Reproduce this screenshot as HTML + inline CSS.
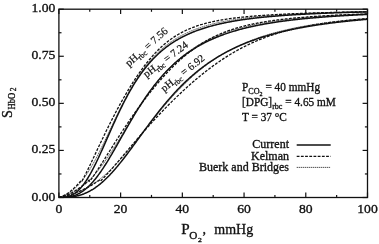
<!DOCTYPE html>
<html><head><meta charset="utf-8"><title>HbO2 dissociation curves</title>
<style>
html,body{margin:0;padding:0;background:#fff;}
svg{display:block;}
text{font-family:"Liberation Serif","DejaVu Serif",serif;fill:#111;stroke:#111;stroke-width:0.33;}
.tk text{font-size:12.9px;}
.an text{font-size:12.3px;}
.lg text{font-size:12px;}
.rl text{stroke-width:0.2;}
.axis line{stroke:#111;stroke-width:1.2;}
.solid{fill:none;stroke:#111;stroke-width:1.5;}
.dash{fill:none;stroke:#111;stroke-width:1.3;stroke-dasharray:2.8 1.4;}
.thin{fill:none;stroke:#333;stroke-width:0.85;stroke-dasharray:1.4 0.6;}
</style></head><body>
<svg width="379" height="244" viewBox="0 0 379 244">
<rect width="379" height="244" fill="#fff"/>
<clipPath id="c"><rect x="58.9" y="9.2" width="308.6" height="188.3"/></clipPath>
<g clip-path="url(#c)">
<path d="M58.90,197.50 L59.67,197.26 L60.44,197.01 L61.21,196.75 L61.99,196.46 L62.76,196.16 L63.53,195.84 L64.30,195.50 L65.07,195.13 L65.84,194.75 L66.61,194.34 L67.39,193.92 L68.16,193.46 L68.93,192.99 L69.70,192.49 L70.47,191.96 L71.24,191.41 L72.02,190.83 L72.79,190.22 L73.56,189.59 L74.33,188.92 L75.10,188.23 L75.87,187.51 L76.64,186.77 L77.42,185.99 L78.19,185.18 L78.96,184.34 L79.73,183.47 L80.50,182.58 L81.27,181.65 L82.05,180.69 L82.82,179.70 L83.59,178.68 L84.36,177.63 L85.13,176.55 L85.90,175.44 L86.67,174.31 L87.45,173.14 L88.22,171.95 L88.99,170.72 L89.76,169.47 L90.53,168.20 L91.30,166.89 L92.07,165.57 L92.85,164.21 L93.62,162.84 L94.39,161.44 L95.16,160.02 L95.93,158.57 L96.70,157.11 L97.47,155.63 L98.25,154.13 L99.02,152.61 L99.79,151.08 L100.56,149.53 L101.33,147.97 L102.10,146.40 L102.88,144.81 L103.65,143.22 L104.42,141.61 L105.19,140.00 L105.96,138.38 L106.73,136.76 L107.50,135.13 L108.28,133.49 L109.05,131.86 L109.82,130.22 L110.59,128.59 L111.36,126.95 L112.13,125.32 L112.91,123.69 L113.68,122.07 L114.45,120.45 L115.22,118.83 L115.99,117.22 L116.76,115.62 L117.53,114.03 L118.31,112.45 L119.08,110.88 L119.85,109.32 L120.62,107.77 L121.39,106.24 L122.16,104.71 L122.93,103.20 L123.71,101.71 L124.48,100.23 L125.25,98.76 L126.02,97.31 L126.79,95.88 L127.56,94.46 L128.34,93.06 L129.11,91.67 L129.88,90.30 L130.65,88.95 L131.42,87.62 L132.19,86.31 L132.96,85.01 L133.74,83.73 L134.51,82.47 L135.28,81.23 L136.05,80.00 L136.82,78.79 L137.59,77.61 L138.36,76.44 L139.14,75.29 L139.91,74.15 L140.68,73.04 L141.45,71.94 L142.22,70.87 L142.99,69.81 L143.76,68.76 L144.54,67.74 L145.31,66.73 L146.08,65.74 L146.85,64.77 L147.62,63.81 L148.39,62.88 L149.17,61.95 L149.94,61.05 L150.71,60.16 L151.48,59.29 L152.25,58.43 L153.02,57.59 L153.79,56.76 L154.57,55.95 L155.34,55.16 L156.11,54.38 L156.88,53.61 L157.65,52.86 L158.42,52.12 L159.19,51.40 L159.97,50.69 L160.74,49.99 L161.51,49.31 L162.28,48.64 L163.05,47.98 L163.82,47.34 L164.60,46.71 L165.37,46.09 L166.14,45.48 L166.91,44.88 L167.68,44.30 L168.45,43.73 L169.22,43.16 L170.00,42.61 L170.77,42.07 L171.54,41.54 L172.31,41.02 L173.08,40.51 L173.85,40.01 L174.62,39.52 L175.40,39.04 L176.17,38.56 L176.94,38.10 L177.71,37.65 L178.48,37.20 L179.25,36.76 L180.03,36.34 L180.80,35.92 L181.57,35.50 L182.34,35.10 L183.11,34.70 L183.88,34.31 L184.65,33.93 L185.43,33.56 L186.20,33.19 L186.97,32.83 L187.74,32.47 L188.51,32.13 L189.28,31.79 L190.06,31.45 L190.83,31.12 L191.60,30.80 L192.37,30.49 L193.14,30.18 L193.91,29.87 L194.68,29.57 L195.46,29.28 L196.23,28.99 L197.00,28.71 L197.77,28.43 L198.54,28.16 L199.31,27.89 L200.08,27.63 L200.86,27.37 L201.63,27.12 L202.40,26.87 L203.17,26.63 L203.94,26.39 L204.71,26.15 L205.49,25.92 L206.26,25.69 L207.03,25.47 L207.80,25.25 L208.57,25.04 L209.34,24.82 L210.11,24.62 L210.89,24.41 L211.66,24.21 L212.43,24.02 L213.20,23.82 L213.97,23.63 L214.74,23.44 L215.51,23.26 L216.29,23.08 L217.06,22.90 L217.83,22.73 L218.60,22.56 L219.37,22.39 L220.14,22.22 L220.92,22.06 L221.69,21.90 L222.46,21.74 L223.23,21.59 L224.00,21.43 L224.77,21.28 L225.54,21.14 L226.32,20.99 L227.09,20.85 L227.86,20.71 L228.63,20.57 L229.40,20.43 L230.17,20.30 L230.94,20.17 L231.72,20.04 L232.49,19.91 L233.26,19.79 L234.03,19.66 L234.80,19.54 L235.57,19.42 L236.34,19.30 L237.12,19.19 L237.89,19.07 L238.66,18.96 L239.43,18.85 L240.20,18.74 L240.97,18.64 L241.75,18.53 L242.52,18.43 L243.29,18.32 L244.06,18.22 L244.83,18.12 L245.60,18.03 L246.37,17.93 L247.15,17.84 L247.92,17.74 L248.69,17.65 L249.46,17.56 L250.23,17.47 L251.00,17.38 L251.78,17.30 L252.55,17.21 L253.32,17.13 L254.09,17.04 L254.86,16.96 L255.63,16.88 L256.40,16.80 L257.18,16.72 L257.95,16.65 L258.72,16.57 L259.49,16.50 L260.26,16.42 L261.03,16.35 L261.80,16.28 L262.58,16.21 L263.35,16.14 L264.12,16.07 L264.89,16.00 L265.66,15.93 L266.43,15.87 L267.20,15.80 L267.98,15.74 L268.75,15.68 L269.52,15.61 L270.29,15.55 L271.06,15.49 L271.83,15.43 L272.61,15.37 L273.38,15.31 L274.15,15.26 L274.92,15.20 L275.69,15.14 L276.46,15.09 L277.23,15.03 L278.01,14.98 L278.78,14.93 L279.55,14.87 L280.32,14.82 L281.09,14.77 L281.86,14.72 L282.63,14.67 L283.41,14.62 L284.18,14.57 L284.95,14.53 L285.72,14.48 L286.49,14.43 L287.26,14.39 L288.04,14.34 L288.81,14.29 L289.58,14.25 L290.35,14.21 L291.12,14.16 L291.89,14.12 L292.66,14.08 L293.44,14.04 L294.21,14.00 L294.98,13.95 L295.75,13.91 L296.52,13.87 L297.29,13.84 L298.06,13.80 L298.84,13.76 L299.61,13.72 L300.38,13.68 L301.15,13.65 L301.92,13.61 L302.69,13.57 L303.47,13.54 L304.24,13.50 L305.01,13.47 L305.78,13.43 L306.55,13.40 L307.32,13.37 L308.09,13.33 L308.87,13.30 L309.64,13.27 L310.41,13.24 L311.18,13.20 L311.95,13.17 L312.72,13.14 L313.50,13.11 L314.27,13.08 L315.04,13.05 L315.81,13.02 L316.58,12.99 L317.35,12.96 L318.12,12.93 L318.90,12.91 L319.67,12.88 L320.44,12.85 L321.21,12.82 L321.98,12.80 L322.75,12.77 L323.52,12.74 L324.30,12.72 L325.07,12.69 L325.84,12.66 L326.61,12.64 L327.38,12.61 L328.15,12.59 L328.93,12.56 L329.70,12.54 L330.47,12.52 L331.24,12.49 L332.01,12.47 L332.78,12.45 L333.55,12.42 L334.33,12.40 L335.10,12.38 L335.87,12.36 L336.64,12.33 L337.41,12.31 L338.18,12.29 L338.95,12.27 L339.73,12.25 L340.50,12.23 L341.27,12.21 L342.04,12.18 L342.81,12.16 L343.58,12.14 L344.36,12.12 L345.13,12.10 L345.90,12.09 L346.67,12.07 L347.44,12.05 L348.21,12.03 L348.98,12.01 L349.76,11.99 L350.53,11.97 L351.30,11.95 L352.07,11.94 L352.84,11.92 L353.61,11.90 L354.38,11.88 L355.16,11.87 L355.93,11.85 L356.70,11.83 L357.47,11.81 L358.24,11.80 L359.01,11.78 L359.79,11.76 L360.56,11.75 L361.33,11.73 L362.10,11.72 L362.87,11.70 L363.64,11.68 L364.41,11.67 L365.19,11.65 L365.96,11.64 L366.73,11.62 L367.50,11.61" class="thin"/>
<path d="M58.90,197.50 L59.67,197.25 L60.44,196.98 L61.21,196.69 L61.99,196.37 L62.76,196.03 L63.53,195.66 L64.30,195.26 L65.07,194.84 L65.84,194.40 L66.61,193.93 L67.39,193.44 L68.16,192.92 L68.93,192.38 L69.70,191.81 L70.47,191.22 L71.24,190.60 L72.02,189.96 L72.79,189.29 L73.56,188.60 L74.33,187.89 L75.10,187.15 L75.87,186.38 L76.64,185.59 L77.42,184.77 L78.19,183.93 L78.96,183.07 L79.73,182.18 L80.50,181.27 L81.27,180.33 L82.05,180.89 L82.82,179.48 L83.59,178.03 L84.36,176.56 L85.13,175.07 L85.90,173.55 L86.67,172.01 L87.45,170.45 L88.22,168.88 L88.99,167.29 L89.76,165.69 L90.53,164.08 L91.30,162.46 L92.07,160.83 L92.85,159.20 L93.62,157.56 L94.39,155.91 L95.16,154.27 L95.93,152.62 L96.70,150.98 L97.47,149.33 L98.25,147.69 L99.02,146.05 L99.79,144.42 L100.56,142.79 L101.33,141.16 L102.10,139.54 L102.88,137.93 L103.65,136.32 L104.42,134.72 L105.19,133.13 L105.96,131.54 L106.73,129.97 L107.50,128.40 L108.28,126.84 L109.05,125.29 L109.82,123.75 L110.59,122.22 L111.36,120.70 L112.13,119.19 L112.91,117.69 L113.68,116.20 L114.45,114.72 L115.22,113.25 L115.99,111.79 L116.76,110.34 L117.53,108.90 L118.31,107.48 L119.08,106.06 L119.85,104.65 L120.62,103.26 L121.39,101.87 L122.16,100.50 L122.93,99.14 L123.71,97.79 L124.48,96.45 L125.25,95.12 L126.02,93.80 L126.79,92.49 L127.56,91.20 L128.34,89.91 L129.11,88.64 L129.88,87.38 L130.65,86.13 L131.42,84.89 L132.19,83.66 L132.96,82.45 L133.74,81.25 L134.51,80.06 L135.28,78.88 L136.05,77.72 L136.82,76.56 L137.59,75.42 L138.36,74.30 L139.14,73.18 L139.91,72.08 L140.68,70.99 L141.45,69.92 L142.22,68.86 L142.99,67.81 L143.76,66.77 L144.54,65.75 L145.31,64.74 L146.08,63.75 L146.85,62.77 L147.62,61.81 L148.39,60.85 L149.17,59.92 L149.94,58.99 L150.71,58.08 L151.48,57.19 L152.25,56.31 L153.02,55.44 L153.79,54.58 L154.57,53.75 L155.34,52.92 L156.11,52.11 L156.88,51.31 L157.65,50.53 L158.42,49.76 L159.19,49.01 L159.97,48.26 L160.74,47.54 L161.51,46.82 L162.28,46.12 L163.05,45.43 L163.82,44.76 L164.60,44.10 L165.37,43.45 L166.14,42.82 L166.91,42.19 L167.68,41.58 L168.45,40.99 L169.22,40.40 L170.00,39.83 L170.77,39.27 L171.54,38.72 L172.31,38.18 L173.08,37.65 L173.85,37.14 L174.62,36.63 L175.40,36.14 L176.17,35.66 L176.94,35.19 L177.71,34.72 L178.48,34.27 L179.25,33.83 L180.03,33.40 L180.80,32.97 L181.57,32.56 L182.34,32.16 L183.11,31.76 L183.88,31.37 L184.65,30.99 L185.43,30.62 L186.20,30.26 L186.97,29.91 L187.74,29.56 L188.51,29.23 L189.28,28.90 L190.06,28.57 L190.83,28.26 L191.60,27.95 L192.37,27.65 L193.14,27.35 L193.91,27.06 L194.68,26.78 L195.46,26.50 L196.23,26.23 L197.00,25.97 L197.77,25.71 L198.54,25.46 L199.31,25.21 L200.08,24.97 L200.86,24.73 L201.63,24.50 L202.40,24.28 L203.17,24.06 L203.94,23.84 L204.71,23.63 L205.49,23.42 L206.26,23.22 L207.03,23.02 L207.80,22.82 L208.57,22.63 L209.34,22.45 L210.11,22.27 L210.89,22.09 L211.66,21.91 L212.43,21.74 L213.20,21.57 L213.97,21.41 L214.74,21.25 L215.51,21.09 L216.29,20.94 L217.06,20.78 L217.83,20.64 L218.60,20.49 L219.37,20.35 L220.14,20.21 L220.92,20.07 L221.69,19.94 L222.46,19.80 L223.23,19.68 L224.00,19.55 L224.77,19.42 L225.54,19.30 L226.32,19.18 L227.09,19.07 L227.86,18.95 L228.63,18.84 L229.40,18.73 L230.17,18.62 L230.94,18.51 L231.72,18.41 L232.49,18.30 L233.26,18.20 L234.03,18.10 L234.80,18.01 L235.57,17.91 L236.34,17.82 L237.12,17.72 L237.89,17.63 L238.66,17.54 L239.43,17.46 L240.20,17.37 L240.97,17.28 L241.75,17.20 L242.52,17.12 L243.29,17.04 L244.06,16.96 L244.83,16.88 L245.60,16.80 L246.37,16.73 L247.15,16.66 L247.92,16.58 L248.69,16.51 L249.46,16.44 L250.23,16.37 L251.00,16.30 L251.78,16.23 L252.55,16.17 L253.32,16.10 L254.09,16.04 L254.86,15.98 L255.63,15.91 L256.40,15.85 L257.18,15.79 L257.95,15.73 L258.72,15.67 L259.49,15.62 L260.26,15.56 L261.03,15.50 L261.80,15.45 L262.58,15.39 L263.35,15.34 L264.12,15.29 L264.89,15.23 L265.66,15.18 L266.43,15.13 L267.20,15.08 L267.98,15.03 L268.75,14.98 L269.52,14.94 L270.29,14.89 L271.06,14.84 L271.83,14.80 L272.61,14.75 L273.38,14.71 L274.15,14.66 L274.92,14.62 L275.69,14.58 L276.46,14.53 L277.23,14.49 L278.01,14.45 L278.78,14.41 L279.55,14.37 L280.32,14.33 L281.09,14.29 L281.86,14.25 L282.63,14.21 L283.41,14.17 L284.18,14.14 L284.95,14.10 L285.72,14.06 L286.49,14.03 L287.26,13.99 L288.04,13.96 L288.81,13.92 L289.58,13.89 L290.35,13.85 L291.12,13.82 L291.89,13.79 L292.66,13.75 L293.44,13.72 L294.21,13.69 L294.98,13.66 L295.75,13.63 L296.52,13.60 L297.29,13.57 L298.06,13.54 L298.84,13.51 L299.61,13.48 L300.38,13.45 L301.15,13.42 L301.92,13.39 L302.69,13.36 L303.47,13.33 L304.24,13.31 L305.01,13.28 L305.78,13.25 L306.55,13.23 L307.32,13.20 L308.09,13.17 L308.87,13.15 L309.64,13.12 L310.41,13.10 L311.18,13.07 L311.95,13.05 L312.72,13.02 L313.50,13.00 L314.27,12.97 L315.04,12.95 L315.81,12.93 L316.58,12.90 L317.35,12.88 L318.12,12.86 L318.90,12.83 L319.67,12.81 L320.44,12.79 L321.21,12.77 L321.98,12.75 L322.75,12.72 L323.52,12.70 L324.30,12.68 L325.07,12.66 L325.84,12.64 L326.61,12.62 L327.38,12.60 L328.15,12.58 L328.93,12.56 L329.70,12.54 L330.47,12.52 L331.24,12.50 L332.01,12.48 L332.78,12.46 L333.55,12.44 L334.33,12.43 L335.10,12.41 L335.87,12.39 L336.64,12.37 L337.41,12.35 L338.18,12.33 L338.95,12.32 L339.73,12.30 L340.50,12.28 L341.27,12.26 L342.04,12.25 L342.81,12.23 L343.58,12.21 L344.36,12.20 L345.13,12.18 L345.90,12.16 L346.67,12.15 L347.44,12.13 L348.21,12.12 L348.98,12.10 L349.76,12.08 L350.53,12.07 L351.30,12.05 L352.07,12.04 L352.84,12.02 L353.61,12.01 L354.38,11.99 L355.16,11.98 L355.93,11.96 L356.70,11.95 L357.47,11.94 L358.24,11.92 L359.01,11.91 L359.79,11.89 L360.56,11.88 L361.33,11.87 L362.10,11.85 L362.87,11.84 L363.64,11.82 L364.41,11.81 L365.19,11.80 L365.96,11.79 L366.73,11.77 L367.50,11.76" class="dash"/>
<path d="M58.90,197.50 L59.67,197.50 L60.44,197.49 L61.21,197.48 L61.99,197.45 L62.76,197.41 L63.53,197.35 L64.30,197.27 L65.07,197.17 L65.84,197.04 L66.61,196.89 L67.39,196.71 L68.16,196.51 L68.93,196.27 L69.70,196.00 L70.47,195.70 L71.24,195.36 L72.02,194.98 L72.79,194.57 L73.56,194.11 L74.33,193.62 L75.10,193.09 L75.87,192.51 L76.64,191.90 L77.42,191.24 L78.19,190.53 L78.96,189.79 L79.73,189.00 L80.50,188.16 L81.27,187.29 L82.05,186.36 L82.82,185.40 L83.59,184.39 L84.36,183.34 L85.13,182.25 L85.90,181.12 L86.67,179.94 L87.45,178.73 L88.22,177.48 L88.99,176.19 L89.76,174.86 L90.53,173.50 L91.30,172.10 L92.07,170.67 L92.85,169.21 L93.62,167.72 L94.39,166.21 L95.16,164.66 L95.93,163.09 L96.70,161.50 L97.47,159.88 L98.25,158.25 L99.02,156.59 L99.79,154.92 L100.56,153.24 L101.33,151.54 L102.10,149.83 L102.88,148.11 L103.65,146.38 L104.42,144.64 L105.19,142.90 L105.96,141.15 L106.73,139.40 L107.50,137.65 L108.28,135.90 L109.05,134.16 L109.82,132.41 L110.59,130.67 L111.36,128.94 L112.13,127.21 L112.91,125.49 L113.68,123.78 L114.45,122.08 L115.22,120.39 L115.99,118.71 L116.76,117.05 L117.53,115.39 L118.31,113.76 L119.08,112.13 L119.85,110.52 L120.62,108.93 L121.39,107.36 L122.16,105.80 L122.93,104.26 L123.71,102.74 L124.48,101.23 L125.25,99.75 L126.02,98.28 L126.79,96.84 L127.56,95.41 L128.34,94.00 L129.11,92.61 L129.88,91.24 L130.65,89.89 L131.42,88.57 L132.19,87.26 L132.96,85.97 L133.74,84.70 L134.51,83.45 L135.28,82.22 L136.05,81.01 L136.82,79.82 L137.59,78.65 L138.36,77.50 L139.14,76.37 L139.91,75.26 L140.68,74.16 L141.45,73.09 L142.22,72.03 L142.99,71.00 L143.76,69.98 L144.54,68.98 L145.31,67.99 L146.08,67.03 L146.85,66.08 L147.62,65.15 L148.39,64.23 L149.17,63.33 L149.94,62.45 L150.71,61.58 L151.48,60.73 L152.25,59.90 L153.02,59.08 L153.79,58.28 L154.57,57.49 L155.34,56.71 L156.11,55.95 L156.88,55.21 L157.65,54.47 L158.42,53.76 L159.19,53.05 L159.97,52.36 L160.74,51.68 L161.51,51.01 L162.28,50.36 L163.05,49.72 L163.82,49.09 L164.60,48.47 L165.37,47.86 L166.14,47.27 L166.91,46.68 L167.68,46.11 L168.45,45.55 L169.22,44.99 L170.00,44.45 L170.77,43.92 L171.54,43.40 L172.31,42.88 L173.08,42.38 L173.85,41.89 L174.62,41.40 L175.40,40.92 L176.17,40.46 L176.94,40.00 L177.71,39.55 L178.48,39.11 L179.25,38.67 L180.03,38.25 L180.80,37.83 L181.57,37.42 L182.34,37.01 L183.11,36.62 L183.88,36.23 L184.65,35.84 L185.43,35.47 L186.20,35.10 L186.97,34.74 L187.74,34.38 L188.51,34.03 L189.28,33.69 L190.06,33.35 L190.83,33.02 L191.60,32.69 L192.37,32.37 L193.14,32.06 L193.91,31.75 L194.68,31.45 L195.46,31.15 L196.23,30.86 L197.00,30.57 L197.77,30.28 L198.54,30.01 L199.31,29.73 L200.08,29.46 L200.86,29.20 L201.63,28.94 L202.40,28.68 L203.17,28.43 L203.94,28.18 L204.71,27.94 L205.49,27.70 L206.26,27.47 L207.03,27.24 L207.80,27.01 L208.57,26.78 L209.34,26.56 L210.11,26.35 L210.89,26.13 L211.66,25.93 L212.43,25.72 L213.20,25.52 L213.97,25.32 L214.74,25.12 L215.51,24.93 L216.29,24.74 L217.06,24.55 L217.83,24.37 L218.60,24.18 L219.37,24.01 L220.14,23.83 L220.92,23.66 L221.69,23.49 L222.46,23.32 L223.23,23.15 L224.00,22.99 L224.77,22.83 L225.54,22.67 L226.32,22.52 L227.09,22.37 L227.86,22.22 L228.63,22.07 L229.40,21.92 L230.17,21.78 L230.94,21.64 L231.72,21.50 L232.49,21.36 L233.26,21.22 L234.03,21.09 L234.80,20.96 L235.57,20.83 L236.34,20.70 L237.12,20.57 L237.89,20.45 L238.66,20.33 L239.43,20.21 L240.20,20.09 L240.97,19.97 L241.75,19.86 L242.52,19.74 L243.29,19.63 L244.06,19.52 L244.83,19.41 L245.60,19.30 L246.37,19.20 L247.15,19.09 L247.92,18.99 L248.69,18.89 L249.46,18.79 L250.23,18.69 L251.00,18.59 L251.78,18.50 L252.55,18.40 L253.32,18.31 L254.09,18.22 L254.86,18.13 L255.63,18.04 L256.40,17.95 L257.18,17.86 L257.95,17.77 L258.72,17.69 L259.49,17.60 L260.26,17.52 L261.03,17.44 L261.80,17.36 L262.58,17.28 L263.35,17.20 L264.12,17.12 L264.89,17.05 L265.66,16.97 L266.43,16.90 L267.20,16.82 L267.98,16.75 L268.75,16.68 L269.52,16.61 L270.29,16.54 L271.06,16.47 L271.83,16.40 L272.61,16.33 L273.38,16.27 L274.15,16.20 L274.92,16.14 L275.69,16.07 L276.46,16.01 L277.23,15.95 L278.01,15.89 L278.78,15.82 L279.55,15.76 L280.32,15.70 L281.09,15.65 L281.86,15.59 L282.63,15.53 L283.41,15.47 L284.18,15.42 L284.95,15.36 L285.72,15.31 L286.49,15.25 L287.26,15.20 L288.04,15.15 L288.81,15.10 L289.58,15.04 L290.35,14.99 L291.12,14.94 L291.89,14.89 L292.66,14.84 L293.44,14.80 L294.21,14.75 L294.98,14.70 L295.75,14.65 L296.52,14.61 L297.29,14.56 L298.06,14.52 L298.84,14.47 L299.61,14.43 L300.38,14.38 L301.15,14.34 L301.92,14.30 L302.69,14.26 L303.47,14.21 L304.24,14.17 L305.01,14.13 L305.78,14.09 L306.55,14.05 L307.32,14.01 L308.09,13.97 L308.87,13.93 L309.64,13.90 L310.41,13.86 L311.18,13.82 L311.95,13.78 L312.72,13.75 L313.50,13.71 L314.27,13.67 L315.04,13.64 L315.81,13.60 L316.58,13.57 L317.35,13.54 L318.12,13.50 L318.90,13.47 L319.67,13.43 L320.44,13.40 L321.21,13.37 L321.98,13.34 L322.75,13.31 L323.52,13.27 L324.30,13.24 L325.07,13.21 L325.84,13.18 L326.61,13.15 L327.38,13.12 L328.15,13.09 L328.93,13.06 L329.70,13.03 L330.47,13.00 L331.24,12.98 L332.01,12.95 L332.78,12.92 L333.55,12.89 L334.33,12.86 L335.10,12.84 L335.87,12.81 L336.64,12.78 L337.41,12.76 L338.18,12.73 L338.95,12.71 L339.73,12.68 L340.50,12.66 L341.27,12.63 L342.04,12.61 L342.81,12.58 L343.58,12.56 L344.36,12.53 L345.13,12.51 L345.90,12.49 L346.67,12.46 L347.44,12.44 L348.21,12.42 L348.98,12.39 L349.76,12.37 L350.53,12.35 L351.30,12.33 L352.07,12.31 L352.84,12.28 L353.61,12.26 L354.38,12.24 L355.16,12.22 L355.93,12.20 L356.70,12.18 L357.47,12.16 L358.24,12.14 L359.01,12.12 L359.79,12.10 L360.56,12.08 L361.33,12.06 L362.10,12.04 L362.87,12.02 L363.64,12.00 L364.41,11.98 L365.19,11.96 L365.96,11.95 L366.73,11.93 L367.50,11.91" class="solid"/>
<path d="M58.90,197.50 L59.67,197.32 L60.44,197.13 L61.21,196.93 L61.99,196.72 L62.76,196.50 L63.53,196.27 L64.30,196.03 L65.07,195.78 L65.84,195.51 L66.61,195.24 L67.39,194.95 L68.16,194.64 L68.93,194.33 L69.70,194.00 L70.47,193.65 L71.24,193.30 L72.02,192.92 L72.79,192.54 L73.56,192.13 L74.33,191.71 L75.10,191.28 L75.87,190.83 L76.64,190.37 L77.42,189.88 L78.19,189.39 L78.96,188.87 L79.73,188.34 L80.50,187.79 L81.27,187.22 L82.05,186.64 L82.82,186.03 L83.59,185.41 L84.36,184.78 L85.13,184.12 L85.90,183.45 L86.67,182.75 L87.45,182.04 L88.22,181.32 L88.99,180.57 L89.76,179.81 L90.53,179.02 L91.30,178.22 L92.07,177.41 L92.85,176.57 L93.62,175.72 L94.39,174.85 L95.16,173.96 L95.93,173.05 L96.70,172.13 L97.47,171.19 L98.25,170.24 L99.02,169.27 L99.79,168.28 L100.56,167.28 L101.33,166.26 L102.10,165.23 L102.88,164.18 L103.65,163.12 L104.42,162.04 L105.19,160.95 L105.96,159.85 L106.73,158.74 L107.50,157.61 L108.28,156.47 L109.05,155.33 L109.82,154.17 L110.59,153.00 L111.36,151.82 L112.13,150.63 L112.91,149.43 L113.68,148.23 L114.45,147.01 L115.22,145.79 L115.99,144.57 L116.76,143.33 L117.53,142.10 L118.31,140.85 L119.08,139.60 L119.85,138.35 L120.62,137.10 L121.39,135.84 L122.16,134.58 L122.93,133.32 L123.71,132.06 L124.48,130.79 L125.25,129.53 L126.02,128.27 L126.79,127.01 L127.56,125.74 L128.34,124.48 L129.11,123.23 L129.88,121.97 L130.65,120.72 L131.42,119.47 L132.19,118.23 L132.96,116.99 L133.74,115.75 L134.51,114.52 L135.28,113.30 L136.05,112.08 L136.82,110.87 L137.59,109.66 L138.36,108.46 L139.14,107.27 L139.91,106.09 L140.68,104.91 L141.45,103.74 L142.22,102.58 L142.99,101.43 L143.76,100.29 L144.54,99.15 L145.31,98.03 L146.08,96.91 L146.85,95.81 L147.62,94.71 L148.39,93.62 L149.17,92.55 L149.94,91.48 L150.71,90.43 L151.48,89.38 L152.25,88.34 L153.02,87.32 L153.79,86.30 L154.57,85.30 L155.34,84.31 L156.11,83.33 L156.88,82.36 L157.65,81.40 L158.42,80.45 L159.19,79.51 L159.97,78.58 L160.74,77.66 L161.51,76.76 L162.28,75.86 L163.05,74.98 L163.82,74.11 L164.60,73.25 L165.37,72.40 L166.14,71.56 L166.91,70.73 L167.68,69.91 L168.45,69.10 L169.22,68.30 L170.00,67.52 L170.77,66.74 L171.54,65.97 L172.31,65.22 L173.08,64.47 L173.85,63.74 L174.62,63.01 L175.40,62.30 L176.17,61.59 L176.94,60.90 L177.71,60.21 L178.48,59.53 L179.25,58.87 L180.03,58.21 L180.80,57.56 L181.57,56.92 L182.34,56.29 L183.11,55.67 L183.88,55.06 L184.65,54.46 L185.43,53.87 L186.20,53.28 L186.97,52.70 L187.74,52.14 L188.51,51.58 L189.28,51.02 L190.06,50.48 L190.83,49.94 L191.60,49.42 L192.37,48.90 L193.14,48.38 L193.91,47.88 L194.68,47.38 L195.46,46.89 L196.23,46.41 L197.00,45.93 L197.77,45.47 L198.54,45.00 L199.31,44.55 L200.08,44.10 L200.86,43.66 L201.63,43.23 L202.40,42.80 L203.17,42.38 L203.94,41.96 L204.71,41.55 L205.49,41.15 L206.26,40.75 L207.03,40.36 L207.80,39.98 L208.57,39.60 L209.34,39.22 L210.11,38.85 L210.89,38.49 L211.66,38.13 L212.43,37.78 L213.20,37.44 L213.97,37.09 L214.74,36.76 L215.51,36.43 L216.29,36.10 L217.06,35.78 L217.83,35.46 L218.60,35.15 L219.37,34.84 L220.14,34.54 L220.92,34.24 L221.69,33.94 L222.46,33.65 L223.23,33.37 L224.00,33.08 L224.77,32.81 L225.54,32.53 L226.32,32.26 L227.09,32.00 L227.86,31.74 L228.63,31.48 L229.40,31.22 L230.17,30.97 L230.94,30.73 L231.72,30.48 L232.49,30.24 L233.26,30.01 L234.03,29.77 L234.80,29.54 L235.57,29.32 L236.34,29.09 L237.12,28.87 L237.89,28.66 L238.66,28.44 L239.43,28.23 L240.20,28.02 L240.97,27.82 L241.75,27.62 L242.52,27.42 L243.29,27.22 L244.06,27.03 L244.83,26.84 L245.60,26.65 L246.37,26.46 L247.15,26.28 L247.92,26.10 L248.69,25.92 L249.46,25.74 L250.23,25.57 L251.00,25.40 L251.78,25.23 L252.55,25.07 L253.32,24.90 L254.09,24.74 L254.86,24.58 L255.63,24.42 L256.40,24.27 L257.18,24.11 L257.95,23.96 L258.72,23.81 L259.49,23.67 L260.26,23.52 L261.03,23.38 L261.80,23.24 L262.58,23.10 L263.35,22.96 L264.12,22.82 L264.89,22.69 L265.66,22.56 L266.43,22.43 L267.20,22.30 L267.98,22.17 L268.75,22.05 L269.52,21.92 L270.29,21.80 L271.06,21.68 L271.83,21.56 L272.61,21.44 L273.38,21.33 L274.15,21.21 L274.92,21.10 L275.69,20.99 L276.46,20.88 L277.23,20.77 L278.01,20.66 L278.78,20.55 L279.55,20.45 L280.32,20.34 L281.09,20.24 L281.86,20.14 L282.63,20.04 L283.41,19.94 L284.18,19.84 L284.95,19.75 L285.72,19.65 L286.49,19.56 L287.26,19.47 L288.04,19.38 L288.81,19.28 L289.58,19.20 L290.35,19.11 L291.12,19.02 L291.89,18.93 L292.66,18.85 L293.44,18.76 L294.21,18.68 L294.98,18.60 L295.75,18.52 L296.52,18.44 L297.29,18.36 L298.06,18.28 L298.84,18.20 L299.61,18.13 L300.38,18.05 L301.15,17.98 L301.92,17.90 L302.69,17.83 L303.47,17.76 L304.24,17.69 L305.01,17.62 L305.78,17.55 L306.55,17.48 L307.32,17.41 L308.09,17.34 L308.87,17.28 L309.64,17.21 L310.41,17.14 L311.18,17.08 L311.95,17.02 L312.72,16.95 L313.50,16.89 L314.27,16.83 L315.04,16.77 L315.81,16.71 L316.58,16.65 L317.35,16.59 L318.12,16.53 L318.90,16.48 L319.67,16.42 L320.44,16.36 L321.21,16.31 L321.98,16.25 L322.75,16.20 L323.52,16.14 L324.30,16.09 L325.07,16.04 L325.84,15.99 L326.61,15.93 L327.38,15.88 L328.15,15.83 L328.93,15.78 L329.70,15.73 L330.47,15.68 L331.24,15.64 L332.01,15.59 L332.78,15.54 L333.55,15.49 L334.33,15.45 L335.10,15.40 L335.87,15.36 L336.64,15.31 L337.41,15.27 L338.18,15.22 L338.95,15.18 L339.73,15.14 L340.50,15.09 L341.27,15.05 L342.04,15.01 L342.81,14.97 L343.58,14.93 L344.36,14.89 L345.13,14.85 L345.90,14.81 L346.67,14.77 L347.44,14.73 L348.21,14.69 L348.98,14.65 L349.76,14.61 L350.53,14.58 L351.30,14.54 L352.07,14.50 L352.84,14.47 L353.61,14.43 L354.38,14.39 L355.16,14.36 L355.93,14.32 L356.70,14.29 L357.47,14.25 L358.24,14.22 L359.01,14.19 L359.79,14.15 L360.56,14.12 L361.33,14.09 L362.10,14.06 L362.87,14.02 L363.64,13.99 L364.41,13.96 L365.19,13.93 L365.96,13.90 L366.73,13.87 L367.50,13.84" class="thin"/>
<path d="M58.90,197.50 L59.67,197.32 L60.44,197.13 L61.21,196.92 L61.99,196.70 L62.76,196.46 L63.53,196.21 L64.30,195.95 L65.07,195.67 L65.84,195.38 L66.61,195.08 L67.39,194.76 L68.16,194.43 L68.93,194.08 L69.70,193.73 L70.47,193.35 L71.24,192.97 L72.02,192.57 L72.79,192.15 L73.56,191.72 L74.33,191.28 L75.10,190.83 L75.87,190.36 L76.64,189.88 L77.42,189.38 L78.19,188.87 L78.96,188.35 L79.73,187.81 L80.50,187.26 L81.27,186.69 L82.05,186.11 L82.82,185.52 L83.59,184.91 L84.36,184.29 L85.13,183.66 L85.90,183.01 L86.67,182.35 L87.45,181.68 L88.22,180.99 L88.99,180.28 L89.76,181.19 L90.53,180.14 L91.30,179.08 L92.07,178.00 L92.85,176.90 L93.62,175.80 L94.39,174.68 L95.16,173.54 L95.93,172.40 L96.70,171.24 L97.47,170.08 L98.25,168.91 L99.02,167.73 L99.79,166.54 L100.56,165.34 L101.33,164.14 L102.10,162.94 L102.88,161.73 L103.65,160.51 L104.42,159.29 L105.19,158.07 L105.96,156.85 L106.73,155.63 L107.50,154.40 L108.28,153.18 L109.05,151.95 L109.82,150.73 L110.59,149.50 L111.36,148.28 L112.13,147.06 L112.91,145.84 L113.68,144.62 L114.45,143.40 L115.22,142.19 L115.99,140.98 L116.76,139.77 L117.53,138.57 L118.31,137.37 L119.08,136.18 L119.85,134.98 L120.62,133.80 L121.39,132.61 L122.16,131.43 L122.93,130.26 L123.71,129.09 L124.48,127.93 L125.25,126.77 L126.02,125.61 L126.79,124.46 L127.56,123.32 L128.34,122.18 L129.11,121.05 L129.88,119.92 L130.65,118.80 L131.42,117.68 L132.19,116.57 L132.96,115.47 L133.74,114.37 L134.51,113.27 L135.28,112.19 L136.05,111.10 L136.82,110.03 L137.59,108.96 L138.36,107.89 L139.14,106.83 L139.91,105.78 L140.68,104.74 L141.45,103.70 L142.22,102.66 L142.99,101.63 L143.76,100.61 L144.54,99.59 L145.31,98.58 L146.08,97.58 L146.85,96.58 L147.62,95.59 L148.39,94.60 L149.17,93.62 L149.94,92.65 L150.71,91.68 L151.48,90.72 L152.25,89.77 L153.02,88.82 L153.79,87.88 L154.57,86.94 L155.34,86.01 L156.11,85.09 L156.88,84.18 L157.65,83.27 L158.42,82.36 L159.19,81.47 L159.97,80.58 L160.74,79.70 L161.51,78.82 L162.28,77.95 L163.05,77.09 L163.82,76.24 L164.60,75.39 L165.37,74.55 L166.14,73.72 L166.91,72.89 L167.68,72.07 L168.45,71.26 L169.22,70.46 L170.00,69.66 L170.77,68.87 L171.54,68.09 L172.31,67.31 L173.08,66.55 L173.85,65.79 L174.62,65.04 L175.40,64.29 L176.17,63.55 L176.94,62.83 L177.71,62.10 L178.48,61.39 L179.25,60.69 L180.03,59.99 L180.80,59.30 L181.57,58.61 L182.34,57.94 L183.11,57.27 L183.88,56.62 L184.65,55.96 L185.43,55.32 L186.20,54.69 L186.97,54.06 L187.74,53.44 L188.51,52.83 L189.28,52.22 L190.06,51.63 L190.83,51.04 L191.60,50.46 L192.37,49.88 L193.14,49.32 L193.91,48.76 L194.68,48.21 L195.46,47.67 L196.23,47.13 L197.00,46.61 L197.77,46.09 L198.54,45.57 L199.31,45.07 L200.08,44.57 L200.86,44.08 L201.63,43.60 L202.40,43.12 L203.17,42.65 L203.94,42.19 L204.71,41.73 L205.49,41.28 L206.26,40.84 L207.03,40.41 L207.80,39.98 L208.57,39.56 L209.34,39.14 L210.11,38.74 L210.89,38.33 L211.66,37.94 L212.43,37.55 L213.20,37.17 L213.97,36.79 L214.74,36.42 L215.51,36.05 L216.29,35.69 L217.06,35.34 L217.83,34.99 L218.60,34.65 L219.37,34.31 L220.14,33.98 L220.92,33.66 L221.69,33.34 L222.46,33.02 L223.23,32.71 L224.00,32.41 L224.77,32.11 L225.54,31.81 L226.32,31.52 L227.09,31.24 L227.86,30.96 L228.63,30.68 L229.40,30.41 L230.17,30.15 L230.94,29.88 L231.72,29.63 L232.49,29.37 L233.26,29.12 L234.03,28.88 L234.80,28.64 L235.57,28.40 L236.34,28.17 L237.12,27.94 L237.89,27.71 L238.66,27.49 L239.43,27.27 L240.20,27.06 L240.97,26.85 L241.75,26.64 L242.52,26.44 L243.29,26.24 L244.06,26.04 L244.83,25.85 L245.60,25.65 L246.37,25.47 L247.15,25.28 L247.92,25.10 L248.69,24.92 L249.46,24.75 L250.23,24.57 L251.00,24.40 L251.78,24.24 L252.55,24.07 L253.32,23.91 L254.09,23.75 L254.86,23.59 L255.63,23.44 L256.40,23.29 L257.18,23.14 L257.95,22.99 L258.72,22.85 L259.49,22.70 L260.26,22.56 L261.03,22.43 L261.80,22.29 L262.58,22.16 L263.35,22.02 L264.12,21.89 L264.89,21.77 L265.66,21.64 L266.43,21.52 L267.20,21.40 L267.98,21.28 L268.75,21.16 L269.52,21.04 L270.29,20.93 L271.06,20.81 L271.83,20.70 L272.61,20.59 L273.38,20.48 L274.15,20.38 L274.92,20.27 L275.69,20.17 L276.46,20.07 L277.23,19.97 L278.01,19.87 L278.78,19.77 L279.55,19.68 L280.32,19.58 L281.09,19.49 L281.86,19.40 L282.63,19.31 L283.41,19.22 L284.18,19.13 L284.95,19.04 L285.72,18.96 L286.49,18.87 L287.26,18.79 L288.04,18.71 L288.81,18.63 L289.58,18.55 L290.35,18.47 L291.12,18.39 L291.89,18.31 L292.66,18.24 L293.44,18.16 L294.21,18.09 L294.98,18.02 L295.75,17.94 L296.52,17.87 L297.29,17.80 L298.06,17.74 L298.84,17.67 L299.61,17.60 L300.38,17.53 L301.15,17.47 L301.92,17.40 L302.69,17.34 L303.47,17.28 L304.24,17.22 L305.01,17.15 L305.78,17.09 L306.55,17.03 L307.32,16.97 L308.09,16.92 L308.87,16.86 L309.64,16.80 L310.41,16.75 L311.18,16.69 L311.95,16.64 L312.72,16.58 L313.50,16.53 L314.27,16.47 L315.04,16.42 L315.81,16.37 L316.58,16.32 L317.35,16.27 L318.12,16.22 L318.90,16.17 L319.67,16.12 L320.44,16.07 L321.21,16.03 L321.98,15.98 L322.75,15.93 L323.52,15.89 L324.30,15.84 L325.07,15.80 L325.84,15.75 L326.61,15.71 L327.38,15.66 L328.15,15.62 L328.93,15.58 L329.70,15.54 L330.47,15.49 L331.24,15.45 L332.01,15.41 L332.78,15.37 L333.55,15.33 L334.33,15.29 L335.10,15.25 L335.87,15.22 L336.64,15.18 L337.41,15.14 L338.18,15.10 L338.95,15.07 L339.73,15.03 L340.50,14.99 L341.27,14.96 L342.04,14.92 L342.81,14.89 L343.58,14.85 L344.36,14.82 L345.13,14.78 L345.90,14.75 L346.67,14.72 L347.44,14.68 L348.21,14.65 L348.98,14.62 L349.76,14.59 L350.53,14.55 L351.30,14.52 L352.07,14.49 L352.84,14.46 L353.61,14.43 L354.38,14.40 L355.16,14.37 L355.93,14.34 L356.70,14.31 L357.47,14.28 L358.24,14.25 L359.01,14.22 L359.79,14.20 L360.56,14.17 L361.33,14.14 L362.10,14.11 L362.87,14.08 L363.64,14.06 L364.41,14.03 L365.19,14.00 L365.96,13.98 L366.73,13.95 L367.50,13.93" class="dash"/>
<path d="M58.90,197.50 L59.67,197.50 L60.44,197.50 L61.21,197.49 L61.99,197.47 L62.76,197.45 L63.53,197.42 L64.30,197.38 L65.07,197.33 L65.84,197.27 L66.61,197.19 L67.39,197.10 L68.16,196.99 L68.93,196.87 L69.70,196.73 L70.47,196.57 L71.24,196.40 L72.02,196.20 L72.79,195.99 L73.56,195.75 L74.33,195.50 L75.10,195.22 L75.87,194.92 L76.64,194.59 L77.42,194.25 L78.19,193.87 L78.96,193.48 L79.73,193.06 L80.50,192.61 L81.27,192.14 L82.05,191.64 L82.82,191.12 L83.59,190.57 L84.36,189.99 L85.13,189.39 L85.90,188.76 L86.67,188.10 L87.45,187.42 L88.22,186.71 L88.99,185.97 L89.76,185.21 L90.53,184.42 L91.30,183.61 L92.07,182.77 L92.85,181.90 L93.62,181.01 L94.39,180.10 L95.16,179.16 L95.93,178.19 L96.70,177.21 L97.47,176.20 L98.25,175.17 L99.02,174.11 L99.79,173.04 L100.56,171.95 L101.33,170.83 L102.10,169.70 L102.88,168.55 L103.65,167.38 L104.42,166.19 L105.19,164.99 L105.96,163.77 L106.73,162.54 L107.50,161.29 L108.28,160.03 L109.05,158.76 L109.82,157.48 L110.59,156.18 L111.36,154.88 L112.13,153.56 L112.91,152.24 L113.68,150.91 L114.45,149.58 L115.22,148.23 L115.99,146.88 L116.76,145.53 L117.53,144.18 L118.31,142.82 L119.08,141.45 L119.85,140.09 L120.62,138.73 L121.39,137.36 L122.16,136.00 L122.93,134.64 L123.71,133.27 L124.48,131.92 L125.25,130.56 L126.02,129.21 L126.79,127.86 L127.56,126.51 L128.34,125.17 L129.11,123.84 L129.88,122.51 L130.65,121.19 L131.42,119.88 L132.19,118.57 L132.96,117.27 L133.74,115.98 L134.51,114.70 L135.28,113.43 L136.05,112.16 L136.82,110.91 L137.59,109.66 L138.36,108.43 L139.14,107.20 L139.91,105.98 L140.68,104.78 L141.45,103.59 L142.22,102.41 L142.99,101.23 L143.76,100.07 L144.54,98.93 L145.31,97.79 L146.08,96.66 L146.85,95.55 L147.62,94.45 L148.39,93.36 L149.17,92.28 L149.94,91.22 L150.71,90.16 L151.48,89.12 L152.25,88.09 L153.02,87.08 L153.79,86.07 L154.57,85.08 L155.34,84.10 L156.11,83.13 L156.88,82.18 L157.65,81.23 L158.42,80.30 L159.19,79.38 L159.97,78.47 L160.74,77.57 L161.51,76.69 L162.28,75.82 L163.05,74.95 L163.82,74.10 L164.60,73.27 L165.37,72.44 L166.14,71.62 L166.91,70.82 L167.68,70.02 L168.45,69.24 L169.22,68.47 L170.00,67.71 L170.77,66.96 L171.54,66.21 L172.31,65.48 L173.08,64.77 L173.85,64.06 L174.62,63.36 L175.40,62.67 L176.17,61.99 L176.94,61.32 L177.71,60.66 L178.48,60.01 L179.25,59.36 L180.03,58.73 L180.80,58.11 L181.57,57.49 L182.34,56.89 L183.11,56.29 L183.88,55.70 L184.65,55.13 L185.43,54.55 L186.20,53.99 L186.97,53.44 L187.74,52.89 L188.51,52.35 L189.28,51.82 L190.06,51.30 L190.83,50.78 L191.60,50.28 L192.37,49.77 L193.14,49.28 L193.91,48.80 L194.68,48.32 L195.46,47.84 L196.23,47.38 L197.00,46.92 L197.77,46.47 L198.54,46.02 L199.31,45.59 L200.08,45.15 L200.86,44.73 L201.63,44.31 L202.40,43.89 L203.17,43.49 L203.94,43.08 L204.71,42.69 L205.49,42.30 L206.26,41.91 L207.03,41.53 L207.80,41.16 L208.57,40.79 L209.34,40.43 L210.11,40.07 L210.89,39.72 L211.66,39.37 L212.43,39.03 L213.20,38.69 L213.97,38.35 L214.74,38.03 L215.51,37.70 L216.29,37.38 L217.06,37.07 L217.83,36.76 L218.60,36.45 L219.37,36.15 L220.14,35.85 L220.92,35.56 L221.69,35.27 L222.46,34.98 L223.23,34.70 L224.00,34.42 L224.77,34.15 L225.54,33.88 L226.32,33.61 L227.09,33.35 L227.86,33.09 L228.63,32.84 L229.40,32.58 L230.17,32.34 L230.94,32.09 L231.72,31.85 L232.49,31.61 L233.26,31.38 L234.03,31.14 L234.80,30.91 L235.57,30.69 L236.34,30.47 L237.12,30.25 L237.89,30.03 L238.66,29.81 L239.43,29.60 L240.20,29.39 L240.97,29.19 L241.75,28.99 L242.52,28.78 L243.29,28.59 L244.06,28.39 L244.83,28.20 L245.60,28.01 L246.37,27.82 L247.15,27.64 L247.92,27.45 L248.69,27.27 L249.46,27.09 L250.23,26.92 L251.00,26.75 L251.78,26.57 L252.55,26.40 L253.32,26.24 L254.09,26.07 L254.86,25.91 L255.63,25.75 L256.40,25.59 L257.18,25.43 L257.95,25.28 L258.72,25.13 L259.49,24.97 L260.26,24.83 L261.03,24.68 L261.80,24.53 L262.58,24.39 L263.35,24.25 L264.12,24.11 L264.89,23.97 L265.66,23.83 L266.43,23.70 L267.20,23.56 L267.98,23.43 L268.75,23.30 L269.52,23.17 L270.29,23.04 L271.06,22.92 L271.83,22.79 L272.61,22.67 L273.38,22.55 L274.15,22.43 L274.92,22.31 L275.69,22.20 L276.46,22.08 L277.23,21.97 L278.01,21.85 L278.78,21.74 L279.55,21.63 L280.32,21.52 L281.09,21.41 L281.86,21.31 L282.63,21.20 L283.41,21.10 L284.18,21.00 L284.95,20.89 L285.72,20.79 L286.49,20.69 L287.26,20.60 L288.04,20.50 L288.81,20.40 L289.58,20.31 L290.35,20.21 L291.12,20.12 L291.89,20.03 L292.66,19.94 L293.44,19.85 L294.21,19.76 L294.98,19.67 L295.75,19.59 L296.52,19.50 L297.29,19.42 L298.06,19.33 L298.84,19.25 L299.61,19.17 L300.38,19.09 L301.15,19.00 L301.92,18.93 L302.69,18.85 L303.47,18.77 L304.24,18.69 L305.01,18.62 L305.78,18.54 L306.55,18.47 L307.32,18.39 L308.09,18.32 L308.87,18.25 L309.64,18.18 L310.41,18.11 L311.18,18.04 L311.95,17.97 L312.72,17.90 L313.50,17.83 L314.27,17.76 L315.04,17.70 L315.81,17.63 L316.58,17.57 L317.35,17.50 L318.12,17.44 L318.90,17.38 L319.67,17.31 L320.44,17.25 L321.21,17.19 L321.98,17.13 L322.75,17.07 L323.52,17.01 L324.30,16.95 L325.07,16.89 L325.84,16.84 L326.61,16.78 L327.38,16.72 L328.15,16.67 L328.93,16.61 L329.70,16.56 L330.47,16.50 L331.24,16.45 L332.01,16.40 L332.78,16.34 L333.55,16.29 L334.33,16.24 L335.10,16.19 L335.87,16.14 L336.64,16.09 L337.41,16.04 L338.18,15.99 L338.95,15.94 L339.73,15.89 L340.50,15.85 L341.27,15.80 L342.04,15.75 L342.81,15.71 L343.58,15.66 L344.36,15.61 L345.13,15.57 L345.90,15.53 L346.67,15.48 L347.44,15.44 L348.21,15.39 L348.98,15.35 L349.76,15.31 L350.53,15.27 L351.30,15.22 L352.07,15.18 L352.84,15.14 L353.61,15.10 L354.38,15.06 L355.16,15.02 L355.93,14.98 L356.70,14.94 L357.47,14.90 L358.24,14.87 L359.01,14.83 L359.79,14.79 L360.56,14.75 L361.33,14.72 L362.10,14.68 L362.87,14.64 L363.64,14.61 L364.41,14.57 L365.19,14.54 L365.96,14.50 L366.73,14.47 L367.50,14.43" class="solid"/>
<path d="M58.90,197.50 L59.67,197.36 L60.44,197.22 L61.21,197.07 L61.99,196.92 L62.76,196.75 L63.53,196.59 L64.30,196.42 L65.07,196.24 L65.84,196.05 L66.61,195.86 L67.39,195.66 L68.16,195.45 L68.93,195.23 L69.70,195.01 L70.47,194.78 L71.24,194.55 L72.02,194.30 L72.79,194.05 L73.56,193.78 L74.33,193.51 L75.10,193.24 L75.87,192.95 L76.64,192.65 L77.42,192.35 L78.19,192.03 L78.96,191.71 L79.73,191.38 L80.50,191.03 L81.27,190.68 L82.05,190.32 L82.82,189.95 L83.59,189.57 L84.36,189.18 L85.13,188.78 L85.90,188.37 L86.67,187.95 L87.45,187.52 L88.22,187.08 L88.99,186.62 L89.76,186.16 L90.53,185.69 L91.30,185.21 L92.07,184.71 L92.85,184.21 L93.62,183.69 L94.39,183.17 L95.16,182.63 L95.93,182.08 L96.70,181.52 L97.47,180.96 L98.25,180.38 L99.02,179.79 L99.79,179.19 L100.56,178.57 L101.33,177.95 L102.10,177.32 L102.88,176.68 L103.65,176.02 L104.42,175.36 L105.19,174.69 L105.96,174.00 L106.73,173.31 L107.50,172.60 L108.28,171.89 L109.05,171.16 L109.82,170.43 L110.59,169.69 L111.36,168.93 L112.13,168.17 L112.91,167.40 L113.68,166.62 L114.45,165.83 L115.22,165.03 L115.99,164.22 L116.76,163.41 L117.53,162.58 L118.31,161.75 L119.08,160.91 L119.85,160.07 L120.62,159.21 L121.39,158.35 L122.16,157.48 L122.93,156.60 L123.71,155.72 L124.48,154.83 L125.25,153.94 L126.02,153.04 L126.79,152.13 L127.56,151.22 L128.34,150.30 L129.11,149.38 L129.88,148.45 L130.65,147.52 L131.42,146.58 L132.19,145.64 L132.96,144.70 L133.74,143.75 L134.51,142.80 L135.28,141.84 L136.05,140.89 L136.82,139.93 L137.59,138.97 L138.36,138.00 L139.14,137.03 L139.91,136.07 L140.68,135.10 L141.45,134.13 L142.22,133.16 L142.99,132.18 L143.76,131.21 L144.54,130.24 L145.31,129.27 L146.08,128.29 L146.85,127.32 L147.62,126.35 L148.39,125.38 L149.17,124.41 L149.94,123.44 L150.71,122.48 L151.48,121.51 L152.25,120.55 L153.02,119.59 L153.79,118.63 L154.57,117.68 L155.34,116.72 L156.11,115.77 L156.88,114.83 L157.65,113.88 L158.42,112.94 L159.19,112.00 L159.97,111.07 L160.74,110.14 L161.51,109.22 L162.28,108.29 L163.05,107.38 L163.82,106.46 L164.60,105.56 L165.37,104.65 L166.14,103.75 L166.91,102.86 L167.68,101.97 L168.45,101.09 L169.22,100.21 L170.00,99.33 L170.77,98.47 L171.54,97.60 L172.31,96.75 L173.08,95.90 L173.85,95.05 L174.62,94.21 L175.40,93.38 L176.17,92.55 L176.94,91.73 L177.71,90.91 L178.48,90.10 L179.25,89.30 L180.03,88.50 L180.80,87.71 L181.57,86.93 L182.34,86.15 L183.11,85.38 L183.88,84.61 L184.65,83.85 L185.43,83.10 L186.20,82.35 L186.97,81.61 L187.74,80.88 L188.51,80.15 L189.28,79.43 L190.06,78.72 L190.83,78.01 L191.60,77.31 L192.37,76.61 L193.14,75.93 L193.91,75.24 L194.68,74.57 L195.46,73.90 L196.23,73.24 L197.00,72.58 L197.77,71.93 L198.54,71.29 L199.31,70.65 L200.08,70.02 L200.86,69.40 L201.63,68.78 L202.40,68.17 L203.17,67.56 L203.94,66.96 L204.71,66.37 L205.49,65.79 L206.26,65.20 L207.03,64.63 L207.80,64.06 L208.57,63.50 L209.34,62.94 L210.11,62.39 L210.89,61.85 L211.66,61.31 L212.43,60.77 L213.20,60.25 L213.97,59.73 L214.74,59.21 L215.51,58.70 L216.29,58.19 L217.06,57.69 L217.83,57.20 L218.60,56.71 L219.37,56.23 L220.14,55.75 L220.92,55.28 L221.69,54.81 L222.46,54.35 L223.23,53.89 L224.00,53.44 L224.77,53.00 L225.54,52.55 L226.32,52.12 L227.09,51.69 L227.86,51.26 L228.63,50.84 L229.40,50.42 L230.17,50.01 L230.94,49.60 L231.72,49.20 L232.49,48.80 L233.26,48.41 L234.03,48.02 L234.80,47.63 L235.57,47.25 L236.34,46.87 L237.12,46.50 L237.89,46.14 L238.66,45.77 L239.43,45.41 L240.20,45.06 L240.97,44.71 L241.75,44.36 L242.52,44.02 L243.29,43.68 L244.06,43.34 L244.83,43.01 L245.60,42.68 L246.37,42.36 L247.15,42.04 L247.92,41.72 L248.69,41.41 L249.46,41.10 L250.23,40.80 L251.00,40.49 L251.78,40.20 L252.55,39.90 L253.32,39.61 L254.09,39.32 L254.86,39.03 L255.63,38.75 L256.40,38.47 L257.18,38.20 L257.95,37.93 L258.72,37.66 L259.49,37.39 L260.26,37.13 L261.03,36.87 L261.80,36.61 L262.58,36.36 L263.35,36.11 L264.12,35.86 L264.89,35.61 L265.66,35.37 L266.43,35.13 L267.20,34.89 L267.98,34.66 L268.75,34.43 L269.52,34.20 L270.29,33.97 L271.06,33.75 L271.83,33.53 L272.61,33.31 L273.38,33.09 L274.15,32.88 L274.92,32.66 L275.69,32.45 L276.46,32.25 L277.23,32.04 L278.01,31.84 L278.78,31.64 L279.55,31.44 L280.32,31.25 L281.09,31.05 L281.86,30.86 L282.63,30.67 L283.41,30.49 L284.18,30.30 L284.95,30.12 L285.72,29.94 L286.49,29.76 L287.26,29.58 L288.04,29.41 L288.81,29.23 L289.58,29.06 L290.35,28.89 L291.12,28.72 L291.89,28.56 L292.66,28.40 L293.44,28.23 L294.21,28.07 L294.98,27.91 L295.75,27.76 L296.52,27.60 L297.29,27.45 L298.06,27.30 L298.84,27.15 L299.61,27.00 L300.38,26.85 L301.15,26.71 L301.92,26.56 L302.69,26.42 L303.47,26.28 L304.24,26.14 L305.01,26.00 L305.78,25.87 L306.55,25.73 L307.32,25.60 L308.09,25.47 L308.87,25.33 L309.64,25.21 L310.41,25.08 L311.18,24.95 L311.95,24.83 L312.72,24.70 L313.50,24.58 L314.27,24.46 L315.04,24.34 L315.81,24.22 L316.58,24.10 L317.35,23.98 L318.12,23.87 L318.90,23.76 L319.67,23.64 L320.44,23.53 L321.21,23.42 L321.98,23.31 L322.75,23.20 L323.52,23.10 L324.30,22.99 L325.07,22.88 L325.84,22.78 L326.61,22.68 L327.38,22.58 L328.15,22.47 L328.93,22.37 L329.70,22.28 L330.47,22.18 L331.24,22.08 L332.01,21.99 L332.78,21.89 L333.55,21.80 L334.33,21.70 L335.10,21.61 L335.87,21.52 L336.64,21.43 L337.41,21.34 L338.18,21.25 L338.95,21.16 L339.73,21.08 L340.50,20.99 L341.27,20.91 L342.04,20.82 L342.81,20.74 L343.58,20.66 L344.36,20.57 L345.13,20.49 L345.90,20.41 L346.67,20.33 L347.44,20.25 L348.21,20.18 L348.98,20.10 L349.76,20.02 L350.53,19.95 L351.30,19.87 L352.07,19.80 L352.84,19.72 L353.61,19.65 L354.38,19.58 L355.16,19.51 L355.93,19.44 L356.70,19.37 L357.47,19.30 L358.24,19.23 L359.01,19.16 L359.79,19.09 L360.56,19.02 L361.33,18.96 L362.10,18.89 L362.87,18.83 L363.64,18.76 L364.41,18.70 L365.19,18.63 L365.96,18.57 L366.73,18.51 L367.50,18.45" class="thin"/>
<path d="M58.90,197.50 L59.67,197.37 L60.44,197.23 L61.21,197.08 L61.99,196.92 L62.76,196.76 L63.53,196.59 L64.30,196.41 L65.07,196.22 L65.84,196.03 L66.61,195.83 L67.39,195.62 L68.16,195.40 L68.93,195.18 L69.70,194.95 L70.47,194.71 L71.24,194.46 L72.02,194.20 L72.79,193.94 L73.56,193.67 L74.33,193.39 L75.10,193.11 L75.87,192.81 L76.64,192.51 L77.42,192.21 L78.19,191.89 L78.96,191.57 L79.73,191.23 L80.50,190.90 L81.27,190.55 L82.05,190.20 L82.82,189.83 L83.59,189.46 L84.36,189.09 L85.13,188.70 L85.90,188.31 L86.67,187.91 L87.45,187.50 L88.22,187.09 L88.99,186.67 L89.76,186.24 L90.53,185.80 L91.30,185.35 L92.07,184.90 L92.85,184.44 L93.62,183.97 L94.39,183.49 L95.16,183.01 L95.93,182.52 L96.70,182.02 L97.47,181.51 L98.25,181.00 L99.02,180.48 L99.79,179.95 L100.56,180.96 L101.33,180.18 L102.10,179.39 L102.88,178.59 L103.65,177.79 L104.42,176.97 L105.19,176.15 L105.96,175.32 L106.73,174.48 L107.50,173.64 L108.28,172.79 L109.05,171.93 L109.82,171.07 L110.59,170.20 L111.36,169.33 L112.13,168.45 L112.91,167.57 L113.68,166.69 L114.45,165.80 L115.22,164.90 L115.99,164.01 L116.76,163.11 L117.53,162.21 L118.31,161.31 L119.08,160.40 L119.85,159.50 L120.62,158.59 L121.39,157.68 L122.16,156.77 L122.93,155.86 L123.71,154.95 L124.48,154.03 L125.25,153.12 L126.02,152.21 L126.79,151.30 L127.56,150.38 L128.34,149.47 L129.11,148.56 L129.88,147.65 L130.65,146.74 L131.42,145.83 L132.19,144.93 L132.96,144.02 L133.74,143.11 L134.51,142.21 L135.28,141.31 L136.05,140.41 L136.82,139.51 L137.59,138.62 L138.36,137.72 L139.14,136.83 L139.91,135.94 L140.68,135.05 L141.45,134.17 L142.22,133.29 L142.99,132.40 L143.76,131.53 L144.54,130.65 L145.31,129.78 L146.08,128.91 L146.85,128.04 L147.62,127.18 L148.39,126.32 L149.17,125.46 L149.94,124.60 L150.71,123.75 L151.48,122.90 L152.25,122.05 L153.02,121.21 L153.79,120.37 L154.57,119.53 L155.34,118.70 L156.11,117.86 L156.88,117.04 L157.65,116.21 L158.42,115.39 L159.19,114.57 L159.97,113.75 L160.74,112.94 L161.51,112.13 L162.28,111.33 L163.05,110.52 L163.82,109.72 L164.60,108.93 L165.37,108.13 L166.14,107.34 L166.91,106.56 L167.68,105.77 L168.45,104.99 L169.22,104.22 L170.00,103.44 L170.77,102.67 L171.54,101.91 L172.31,101.15 L173.08,100.39 L173.85,99.63 L174.62,98.88 L175.40,98.13 L176.17,97.38 L176.94,96.64 L177.71,95.90 L178.48,95.16 L179.25,94.43 L180.03,93.70 L180.80,92.97 L181.57,92.25 L182.34,91.53 L183.11,90.82 L183.88,90.10 L184.65,89.40 L185.43,88.69 L186.20,87.99 L186.97,87.29 L187.74,86.60 L188.51,85.91 L189.28,85.22 L190.06,84.54 L190.83,83.86 L191.60,83.18 L192.37,82.51 L193.14,81.84 L193.91,81.18 L194.68,80.52 L195.46,79.86 L196.23,79.21 L197.00,78.56 L197.77,77.91 L198.54,77.27 L199.31,76.63 L200.08,76.00 L200.86,75.37 L201.63,74.74 L202.40,74.12 L203.17,73.50 L203.94,72.88 L204.71,72.27 L205.49,71.67 L206.26,71.06 L207.03,70.47 L207.80,69.87 L208.57,69.28 L209.34,68.70 L210.11,68.11 L210.89,67.54 L211.66,66.96 L212.43,66.39 L213.20,65.83 L213.97,65.27 L214.74,64.71 L215.51,64.16 L216.29,63.61 L217.06,63.07 L217.83,62.53 L218.60,61.99 L219.37,61.46 L220.14,60.93 L220.92,60.41 L221.69,59.89 L222.46,59.38 L223.23,58.87 L224.00,58.36 L224.77,57.86 L225.54,57.37 L226.32,56.87 L227.09,56.39 L227.86,55.90 L228.63,55.42 L229.40,54.95 L230.17,54.48 L230.94,54.01 L231.72,53.55 L232.49,53.09 L233.26,52.64 L234.03,52.19 L234.80,51.75 L235.57,51.31 L236.34,50.87 L237.12,50.44 L237.89,50.01 L238.66,49.59 L239.43,49.17 L240.20,48.75 L240.97,48.34 L241.75,47.94 L242.52,47.54 L243.29,47.14 L244.06,46.74 L244.83,46.36 L245.60,45.97 L246.37,45.59 L247.15,45.21 L247.92,44.84 L248.69,44.47 L249.46,44.10 L250.23,43.74 L251.00,43.39 L251.78,43.03 L252.55,42.68 L253.32,42.34 L254.09,42.00 L254.86,41.66 L255.63,41.33 L256.40,41.00 L257.18,40.67 L257.95,40.35 L258.72,40.03 L259.49,39.71 L260.26,39.40 L261.03,39.09 L261.80,38.79 L262.58,38.49 L263.35,38.19 L264.12,37.90 L264.89,37.61 L265.66,37.32 L266.43,37.04 L267.20,36.76 L267.98,36.48 L268.75,36.21 L269.52,35.94 L270.29,35.67 L271.06,35.41 L271.83,35.15 L272.61,34.89 L273.38,34.64 L274.15,34.39 L274.92,34.14 L275.69,33.89 L276.46,33.65 L277.23,33.41 L278.01,33.18 L278.78,32.94 L279.55,32.71 L280.32,32.49 L281.09,32.26 L281.86,32.04 L282.63,31.82 L283.41,31.61 L284.18,31.39 L284.95,31.18 L285.72,30.97 L286.49,30.77 L287.26,30.56 L288.04,30.36 L288.81,30.16 L289.58,29.97 L290.35,29.78 L291.12,29.58 L291.89,29.40 L292.66,29.21 L293.44,29.03 L294.21,28.84 L294.98,28.66 L295.75,28.49 L296.52,28.31 L297.29,28.14 L298.06,27.97 L298.84,27.80 L299.61,27.63 L300.38,27.47 L301.15,27.31 L301.92,27.15 L302.69,26.99 L303.47,26.83 L304.24,26.68 L305.01,26.52 L305.78,26.37 L306.55,26.23 L307.32,26.08 L308.09,25.93 L308.87,25.79 L309.64,25.65 L310.41,25.51 L311.18,25.37 L311.95,25.23 L312.72,25.10 L313.50,24.96 L314.27,24.83 L315.04,24.70 L315.81,24.57 L316.58,24.45 L317.35,24.32 L318.12,24.20 L318.90,24.08 L319.67,23.96 L320.44,23.84 L321.21,23.72 L321.98,23.60 L322.75,23.49 L323.52,23.37 L324.30,23.26 L325.07,23.15 L325.84,23.04 L326.61,22.93 L327.38,22.82 L328.15,22.72 L328.93,22.61 L329.70,22.51 L330.47,22.41 L331.24,22.30 L332.01,22.20 L332.78,22.11 L333.55,22.01 L334.33,21.91 L335.10,21.82 L335.87,21.72 L336.64,21.63 L337.41,21.54 L338.18,21.45 L338.95,21.36 L339.73,21.27 L340.50,21.18 L341.27,21.09 L342.04,21.00 L342.81,20.92 L343.58,20.84 L344.36,20.75 L345.13,20.67 L345.90,20.59 L346.67,20.51 L347.44,20.43 L348.21,20.35 L348.98,20.27 L349.76,20.19 L350.53,20.12 L351.30,20.04 L352.07,19.97 L352.84,19.90 L353.61,19.82 L354.38,19.75 L355.16,19.68 L355.93,19.61 L356.70,19.54 L357.47,19.47 L358.24,19.40 L359.01,19.33 L359.79,19.27 L360.56,19.20 L361.33,19.13 L362.10,19.07 L362.87,19.01 L363.64,18.94 L364.41,18.88 L365.19,18.82 L365.96,18.76 L366.73,18.69 L367.50,18.63" class="dash"/>
<path d="M58.90,197.50 L59.67,197.50 L60.44,197.50 L61.21,197.49 L61.99,197.49 L62.76,197.48 L63.53,197.46 L64.30,197.44 L65.07,197.41 L65.84,197.38 L66.61,197.34 L67.39,197.30 L68.16,197.24 L68.93,197.18 L69.70,197.11 L70.47,197.03 L71.24,196.94 L72.02,196.84 L72.79,196.73 L73.56,196.61 L74.33,196.48 L75.10,196.34 L75.87,196.19 L76.64,196.02 L77.42,195.84 L78.19,195.65 L78.96,195.45 L79.73,195.23 L80.50,195.00 L81.27,194.75 L82.05,194.50 L82.82,194.22 L83.59,193.93 L84.36,193.63 L85.13,193.31 L85.90,192.98 L86.67,192.63 L87.45,192.27 L88.22,191.89 L88.99,191.50 L89.76,191.09 L90.53,190.66 L91.30,190.22 L92.07,189.76 L92.85,189.29 L93.62,188.80 L94.39,188.29 L95.16,187.77 L95.93,187.23 L96.70,186.68 L97.47,186.11 L98.25,185.52 L99.02,184.92 L99.79,184.30 L100.56,183.67 L101.33,183.02 L102.10,182.36 L102.88,181.68 L103.65,180.98 L104.42,180.27 L105.19,179.55 L105.96,178.81 L106.73,178.06 L107.50,177.29 L108.28,176.51 L109.05,175.72 L109.82,174.91 L110.59,174.09 L111.36,173.26 L112.13,172.42 L112.91,171.56 L113.68,170.69 L114.45,169.81 L115.22,168.92 L115.99,168.02 L116.76,167.11 L117.53,166.18 L118.31,165.25 L119.08,164.31 L119.85,163.36 L120.62,162.40 L121.39,161.43 L122.16,160.45 L122.93,159.47 L123.71,158.48 L124.48,157.48 L125.25,156.48 L126.02,155.47 L126.79,154.45 L127.56,153.43 L128.34,152.40 L129.11,151.37 L129.88,150.34 L130.65,149.30 L131.42,148.26 L132.19,147.21 L132.96,146.16 L133.74,145.11 L134.51,144.06 L135.28,143.00 L136.05,141.94 L136.82,140.89 L137.59,139.83 L138.36,138.77 L139.14,137.71 L139.91,136.65 L140.68,135.59 L141.45,134.53 L142.22,133.47 L142.99,132.42 L143.76,131.37 L144.54,130.31 L145.31,129.26 L146.08,128.22 L146.85,127.17 L147.62,126.13 L148.39,125.09 L149.17,124.05 L149.94,123.02 L150.71,121.99 L151.48,120.97 L152.25,119.95 L153.02,118.93 L153.79,117.92 L154.57,116.92 L155.34,115.92 L156.11,114.92 L156.88,113.93 L157.65,112.94 L158.42,111.96 L159.19,110.99 L159.97,110.02 L160.74,109.06 L161.51,108.10 L162.28,107.15 L163.05,106.21 L163.82,105.27 L164.60,104.34 L165.37,103.42 L166.14,102.50 L166.91,101.59 L167.68,100.68 L168.45,99.79 L169.22,98.90 L170.00,98.01 L170.77,97.14 L171.54,96.27 L172.31,95.40 L173.08,94.55 L173.85,93.70 L174.62,92.86 L175.40,92.03 L176.17,91.20 L176.94,90.38 L177.71,89.57 L178.48,88.77 L179.25,87.97 L180.03,87.18 L180.80,86.40 L181.57,85.63 L182.34,84.86 L183.11,84.10 L183.88,83.34 L184.65,82.60 L185.43,81.86 L186.20,81.13 L186.97,80.41 L187.74,79.69 L188.51,78.98 L189.28,78.28 L190.06,77.58 L190.83,76.89 L191.60,76.21 L192.37,75.54 L193.14,74.87 L193.91,74.21 L194.68,73.56 L195.46,72.91 L196.23,72.27 L197.00,71.64 L197.77,71.01 L198.54,70.39 L199.31,69.78 L200.08,69.18 L200.86,68.58 L201.63,67.98 L202.40,67.40 L203.17,66.81 L203.94,66.24 L204.71,65.67 L205.49,65.11 L206.26,64.56 L207.03,64.01 L207.80,63.46 L208.57,62.93 L209.34,62.39 L210.11,61.87 L210.89,61.35 L211.66,60.83 L212.43,60.33 L213.20,59.82 L213.97,59.33 L214.74,58.84 L215.51,58.35 L216.29,57.87 L217.06,57.39 L217.83,56.92 L218.60,56.46 L219.37,56.00 L220.14,55.55 L220.92,55.10 L221.69,54.65 L222.46,54.22 L223.23,53.78 L224.00,53.35 L224.77,52.93 L225.54,52.51 L226.32,52.10 L227.09,51.69 L227.86,51.28 L228.63,50.88 L229.40,50.48 L230.17,50.09 L230.94,49.71 L231.72,49.32 L232.49,48.94 L233.26,48.57 L234.03,48.20 L234.80,47.83 L235.57,47.47 L236.34,47.12 L237.12,46.76 L237.89,46.41 L238.66,46.07 L239.43,45.73 L240.20,45.39 L240.97,45.05 L241.75,44.72 L242.52,44.40 L243.29,44.07 L244.06,43.75 L244.83,43.44 L245.60,43.13 L246.37,42.82 L247.15,42.51 L247.92,42.21 L248.69,41.91 L249.46,41.62 L250.23,41.33 L251.00,41.04 L251.78,40.75 L252.55,40.47 L253.32,40.19 L254.09,39.92 L254.86,39.64 L255.63,39.37 L256.40,39.11 L257.18,38.84 L257.95,38.58 L258.72,38.32 L259.49,38.07 L260.26,37.82 L261.03,37.57 L261.80,37.32 L262.58,37.08 L263.35,36.83 L264.12,36.59 L264.89,36.36 L265.66,36.12 L266.43,35.89 L267.20,35.66 L267.98,35.44 L268.75,35.21 L269.52,34.99 L270.29,34.77 L271.06,34.56 L271.83,34.34 L272.61,34.13 L273.38,33.92 L274.15,33.71 L274.92,33.51 L275.69,33.31 L276.46,33.11 L277.23,32.91 L278.01,32.71 L278.78,32.52 L279.55,32.32 L280.32,32.13 L281.09,31.94 L281.86,31.76 L282.63,31.57 L283.41,31.39 L284.18,31.21 L284.95,31.03 L285.72,30.85 L286.49,30.68 L287.26,30.51 L288.04,30.33 L288.81,30.16 L289.58,30.00 L290.35,29.83 L291.12,29.67 L291.89,29.50 L292.66,29.34 L293.44,29.18 L294.21,29.02 L294.98,28.87 L295.75,28.71 L296.52,28.56 L297.29,28.41 L298.06,28.26 L298.84,28.11 L299.61,27.96 L300.38,27.82 L301.15,27.67 L301.92,27.53 L302.69,27.39 L303.47,27.25 L304.24,27.11 L305.01,26.98 L305.78,26.84 L306.55,26.71 L307.32,26.57 L308.09,26.44 L308.87,26.31 L309.64,26.18 L310.41,26.05 L311.18,25.93 L311.95,25.80 L312.72,25.68 L313.50,25.56 L314.27,25.43 L315.04,25.31 L315.81,25.19 L316.58,25.08 L317.35,24.96 L318.12,24.84 L318.90,24.73 L319.67,24.62 L320.44,24.50 L321.21,24.39 L321.98,24.28 L322.75,24.17 L323.52,24.06 L324.30,23.96 L325.07,23.85 L325.84,23.74 L326.61,23.64 L327.38,23.54 L328.15,23.44 L328.93,23.33 L329.70,23.23 L330.47,23.13 L331.24,23.04 L332.01,22.94 L332.78,22.84 L333.55,22.75 L334.33,22.65 L335.10,22.56 L335.87,22.46 L336.64,22.37 L337.41,22.28 L338.18,22.19 L338.95,22.10 L339.73,22.01 L340.50,21.92 L341.27,21.83 L342.04,21.75 L342.81,21.66 L343.58,21.58 L344.36,21.49 L345.13,21.41 L345.90,21.33 L346.67,21.24 L347.44,21.16 L348.21,21.08 L348.98,21.00 L349.76,20.92 L350.53,20.85 L351.30,20.77 L352.07,20.69 L352.84,20.61 L353.61,20.54 L354.38,20.46 L355.16,20.39 L355.93,20.32 L356.70,20.24 L357.47,20.17 L358.24,20.10 L359.01,20.03 L359.79,19.96 L360.56,19.89 L361.33,19.82 L362.10,19.75 L362.87,19.68 L363.64,19.61 L364.41,19.55 L365.19,19.48 L365.96,19.41 L366.73,19.35 L367.50,19.28" class="solid"/>
</g>
<rect x="58.9" y="9.2" width="308.60" height="188.30" fill="none" stroke="#111" stroke-width="1.3"/>
<g class="axis"><line x1="58.90" y1="197.50" x2="58.90" y2="192.60"/><line x1="58.90" y1="9.20" x2="58.90" y2="14.10"/><line x1="89.76" y1="197.50" x2="89.76" y2="194.90"/><line x1="89.76" y1="9.20" x2="89.76" y2="11.80"/><line x1="120.62" y1="197.50" x2="120.62" y2="192.60"/><line x1="120.62" y1="9.20" x2="120.62" y2="14.10"/><line x1="151.48" y1="197.50" x2="151.48" y2="194.90"/><line x1="151.48" y1="9.20" x2="151.48" y2="11.80"/><line x1="182.34" y1="197.50" x2="182.34" y2="192.60"/><line x1="182.34" y1="9.20" x2="182.34" y2="14.10"/><line x1="213.20" y1="197.50" x2="213.20" y2="194.90"/><line x1="213.20" y1="9.20" x2="213.20" y2="11.80"/><line x1="244.06" y1="197.50" x2="244.06" y2="192.60"/><line x1="244.06" y1="9.20" x2="244.06" y2="14.10"/><line x1="274.92" y1="197.50" x2="274.92" y2="194.90"/><line x1="274.92" y1="9.20" x2="274.92" y2="11.80"/><line x1="305.78" y1="197.50" x2="305.78" y2="192.60"/><line x1="305.78" y1="9.20" x2="305.78" y2="14.10"/><line x1="336.64" y1="197.50" x2="336.64" y2="194.90"/><line x1="336.64" y1="9.20" x2="336.64" y2="11.80"/><line x1="367.50" y1="197.50" x2="367.50" y2="192.60"/><line x1="367.50" y1="9.20" x2="367.50" y2="14.10"/><line x1="58.90" y1="197.50" x2="63.80" y2="197.50"/><line x1="367.50" y1="197.50" x2="362.60" y2="197.50"/><line x1="58.90" y1="173.96" x2="61.50" y2="173.96"/><line x1="367.50" y1="173.96" x2="364.90" y2="173.96"/><line x1="58.90" y1="150.43" x2="63.80" y2="150.43"/><line x1="367.50" y1="150.43" x2="362.60" y2="150.43"/><line x1="58.90" y1="126.89" x2="61.50" y2="126.89"/><line x1="367.50" y1="126.89" x2="364.90" y2="126.89"/><line x1="58.90" y1="103.35" x2="63.80" y2="103.35"/><line x1="367.50" y1="103.35" x2="362.60" y2="103.35"/><line x1="58.90" y1="79.81" x2="61.50" y2="79.81"/><line x1="367.50" y1="79.81" x2="364.90" y2="79.81"/><line x1="58.90" y1="56.27" x2="63.80" y2="56.27"/><line x1="367.50" y1="56.27" x2="362.60" y2="56.27"/><line x1="58.90" y1="32.74" x2="61.50" y2="32.74"/><line x1="367.50" y1="32.74" x2="364.90" y2="32.74"/><line x1="58.90" y1="9.20" x2="63.80" y2="9.20"/><line x1="367.50" y1="9.20" x2="362.60" y2="9.20"/>
</g>
<g class="tk"><text transform="translate(58.90,212.8) scale(1.06,1)" text-anchor="middle">0</text><text transform="translate(120.62,212.8) scale(1.06,1)" text-anchor="middle">20</text><text transform="translate(182.34,212.8) scale(1.06,1)" text-anchor="middle">40</text><text transform="translate(244.06,212.8) scale(1.06,1)" text-anchor="middle">60</text><text transform="translate(305.78,212.8) scale(1.06,1)" text-anchor="middle">80</text><text transform="translate(367.50,212.8) scale(1.06,1)" text-anchor="middle">100</text>
<text transform="translate(55.3,200.50) scale(1.06,1)" text-anchor="end">0.00</text><text transform="translate(55.3,153.00) scale(1.06,1)" text-anchor="end">0.25</text><text transform="translate(55.3,106.20) scale(1.06,1)" text-anchor="end">0.50</text><text transform="translate(55.3,59.30) scale(1.06,1)" text-anchor="end">0.75</text><text transform="translate(55.3,11.80) scale(1.06,1)" text-anchor="end">1.00</text></g>
<g class="an">
<text transform="translate(242,90.7) scale(0.92,1)">P<tspan font-size="8.8" dy="3">CO</tspan><tspan font-size="6.6" dy="2">2</tspan><tspan dy="-5"> = 40 mmHg</tspan></text>
<text transform="translate(242,105.8) scale(0.92,1)">[DPG]<tspan font-size="8.8" dy="3">rbc</tspan><tspan dy="-3"> = 4.65 mM</tspan></text>
<text transform="translate(242,121) scale(0.92,1)">T = 37 °C</text>
</g>
<g class="lg">
<text x="289" y="148.4" text-anchor="end">Current</text>
<text x="289" y="160" text-anchor="end">Kelman</text>
<text x="289" y="171.4" text-anchor="end">Buerk and Bridges</text>
</g>
<line x1="296.7" y1="144.9" x2="330.7" y2="144.9" class="solid"/>
<line x1="296.7" y1="156.4" x2="330.7" y2="156.4" class="dash"/>
<line x1="296.7" y1="167.4" x2="330.7" y2="167.4" class="thin"/>
<text transform="translate(181.2,234.4) scale(1.08,1)" font-size="14">P</text>
<text transform="translate(189.2,239.2) scale(1.1,1)" font-size="10.2">O</text>
<text transform="translate(198.1,241.8) scale(1.1,1)" font-size="7">2</text>
<text x="202.6" y="234.4" font-size="14">,</text>
<text x="214.3" y="234.4" font-size="14">mmHg</text>
<text transform="translate(12.1,117.9) rotate(-90)" font-size="14.3">S</text>
<text transform="translate(14.5,109.6) rotate(-90) scale(0.8,1)" font-size="10.8">HbO</text>
<text transform="translate(15.6,91.3) rotate(-90)" font-size="7.5">2</text>
<g font-size="10.7" class="rl">
<text transform="translate(129,67) rotate(-41.5)">pH<tspan font-size="7.6" dy="2.5">rbc</tspan><tspan dy="-2.5"> = 7.56</tspan></text>
<text transform="translate(146.5,78) rotate(-37)">pH<tspan font-size="7.6" dy="2.5">rbc</tspan><tspan dy="-2.5"> = 7.24</tspan></text>
<text transform="translate(164.2,92.2) rotate(-38.5)">pH<tspan font-size="7.6" dy="2.5">rbc</tspan><tspan dy="-2.5"> = 6.92</tspan></text>
</g>
</svg>
</body></html>
